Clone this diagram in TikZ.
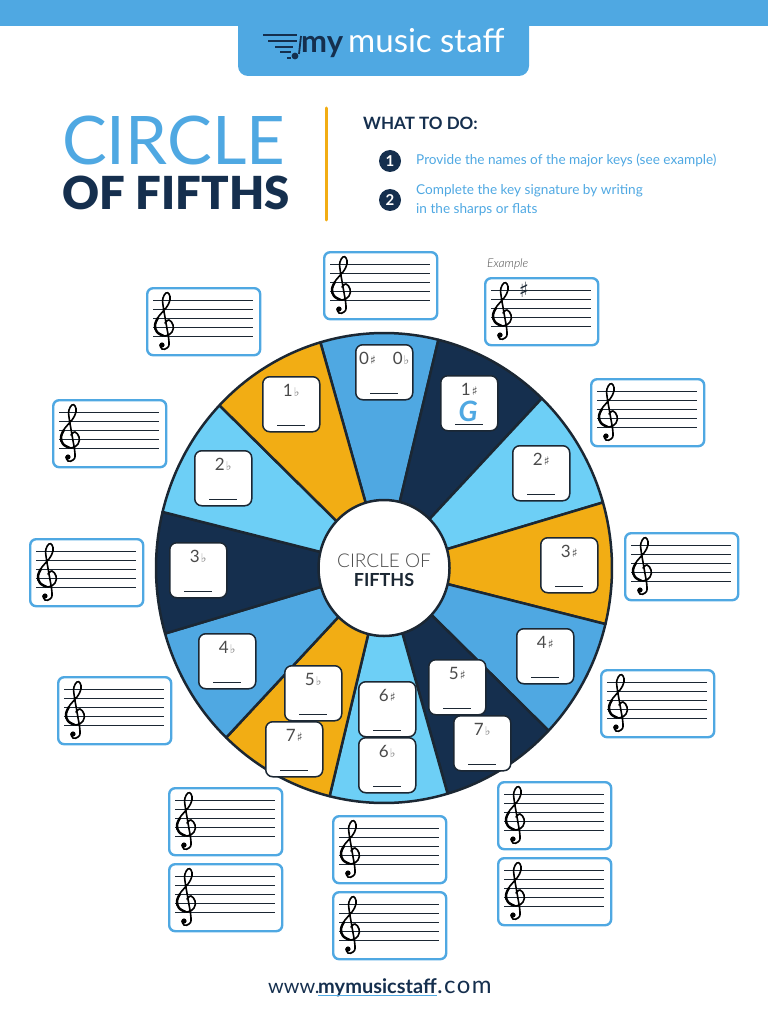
\documentclass[tikz,border=0pt]{standalone}
\usepackage{fontspec}
\setmainfont{Lato}
\newfontfamily\symfont{DejaVu Sans}
\newfontfamily\lightfont{Lato Light}
\newfontfamily\heavyfont{Lato Black}
\usetikzlibrary{positioning}

\definecolor{mmsblue}{HTML}{4FA8E2}
\definecolor{mmsnavy}{HTML}{152F4E}
\definecolor{mmssky}{HTML}{6DCFF6}
\definecolor{mmsgold}{HTML}{F2AD14}
\definecolor{mmsink}{HTML}{1B2733}
\definecolor{mmsgrey}{HTML}{4A4A4A}

\newcommand{\fsz}[1]{\fontsize{#1}{#1}\selectfont}
\newcommand{\shp}{\kern1pt{\symfont\fsz{12}\char"266F}}
\newcommand{\flt}{\kern1pt{\symfont\fsz{12}\color{mmsgrey!70}\char"266D}}

\tikzset{
  wedge/.style={draw=mmsink, line width=2.5pt, line join=round},
  stfbox/.style={draw=mmsblue, fill=white, line width=2.4pt, rounded corners=6pt,
    minimum width=113pt, minimum height=67pt, anchor=north west, inner sep=0pt},
  keybox/.style={draw=mmsink, fill=white, line width=1.5pt, rounded corners=7pt,
    minimum width=57pt, minimum height=55pt, anchor=north west, inner sep=0pt},
  keytext/.style={font=\fsz{17}, text=mmsgrey, inner sep=0pt},
  staffline/.style={draw=mmsink, line width=1pt},
  blankline/.style={draw=mmsink, line width=1pt},
  cleftrace/.style={draw=black, line width=1.6pt, line cap=round},
  lead/.style={font=\fsz{13.6}, text=mmsblue, anchor=base west, inner sep=0pt},
  numdot/.style={circle, fill=mmsnavy, text=white, font=\bfseries\fsz{15},
    minimum size=22pt, inner sep=0pt},
  trebleclef/.pic={
    \draw [cleftrace] plot [smooth, tension=0.7] coordinates {(19,36) (23,33) (27,38)
      (26,45) (19,49) (11,45) (9,38) (13,29) (20,21) (24,13) (23,7) (20,6) (17,11)
      (17,18) (20,36) (23,55) (21,61) (16,62) (14,58)};
    \draw [cleftrace, line width=2.4pt] plot [smooth, tension=0.7] coordinates {(17,48.5) (11,45) (9,38) (12,31)};
    \fill (16,58) circle (2.6);
  }
}

\begin{document}
\begin{tikzpicture}[x=1pt, y=-1pt]
  \useasboundingbox (0,0) rectangle (768,1024);

  \fill [mmsblue, rounded corners=10pt] (238,10) -- (238,76) -- (529,76) -- (529,10) -- cycle;
  \fill [mmsblue] (0,0) rectangle (768,26);
  \foreach \y/\a/\b in {35/263/297, 41/268/297, 47/275/293, 52/280/291}
    \draw [mmsnavy, line width=1.8pt] (\a,\y) -- (\b,\y);
  \fill [mmsnavy] (287,57) rectangle (291,59);
  \draw [mmsnavy, line width=1.8pt] (301,36) -- (299,54);
  \fill [mmsnavy] (295,56) circle (3.4);
  \node [font=\bfseries\fsz{31}, text=mmsnavy, anchor=base west, inner sep=0pt] (logomy) at (301,53) {my};
  \node [font=\fsz{33}, text=white, anchor=base west, inner sep=0pt] (logoname) at (348,53) {music staff};

  \node [font=\fsz{67}, text=mmsblue, anchor=base west, inner sep=0pt] (title1) at (62,165) {CIRCLE};
  \node [font=\heavyfont\fsz{45.5}, text=mmsnavy, anchor=base west, inner sep=0pt] (title2) at (62,210) {OF FIFTHS};
  \draw [mmsgold, line width=3pt, line cap=round] (326,108) -- (326,220);

  \node [font=\bfseries\fsz{17}, text=mmsnavy, anchor=base west, inner sep=0pt] (todo) at (363,130) {WHAT TO DO:};
  \node [numdot] (num1) at (390,161) {1};
  \node [numdot] (num2) at (390,200) {2};
  \node [lead] (txt1) at (416,165) {Provide the names of the major keys (see example)};
  \node [lead] (txt2) at (416,195) {Complete the key signature by writing};
  \node [lead] (txt3) at (416,214) {in the sharps or flats};

  \coordinate (hub) at (384,568);
  \foreach \a/\c in {-106.2/mmsblue, -76.2/mmsnavy, -46.2/mmssky, -16.2/mmsgold,
                     13.8/mmsblue, 43.8/mmsnavy, 73.8/mmssky, 103.8/mmsgold,
                     133.8/mmsblue, 163.8/mmsnavy, 193.8/mmssky, 223.8/mmsgold}
    \filldraw [wedge, fill=\c] (hub) -- ++(\a:228 and 235)
      arc [start angle=\a, delta angle=30, x radius=228, y radius=235] -- cycle;
  \filldraw [wedge, fill=white] (hub) circle [x radius=65.5, y radius=68];
  \node [font=\lightfont\fsz{19}, text=mmsgrey, inner sep=0pt] (hubtop) at (384,561) {CIRCLE OF};
  \node [font=\bfseries\fsz{18}, text=mmsink, inner sep=0pt] (hubbot) at (384,580) {FIFTHS};

  \foreach \nm/\x/\y in {stf0/323/251, stf1f/146/287, stf1s/484/277, stf2s/590/378,
                         stf2f/52/399, stf3s/624/532, stf3f/29/538, stf4s/600/669,
                         stf4f/57/676, stf5s/497/781, stf7f/497/857, stf5f/168/787,
                         stf7s/168/863, stf6s/332/815, stf6f/332/891} {
    \node [stfbox] (\nm) at (\x,\y) {};
    \foreach \k in {13,22,31,40,49}
      \draw [staffline] ([xshift=7pt,yshift=-\k pt]\nm.north west) -- ++(100,0);
    \pic at (\nm.north west) {trebleclef};
  }
  \node [font=\lightfont\itshape\fsz{12}, text=mmsgrey, anchor=base west, inner sep=0pt] (exlab) at (487,267) {Example};
  \node [font=\symfont\bfseries\fsz{21}, text=mmsink, inner sep=0pt] (exsharp) at (524,290) {\char"266F};

  \foreach \nm/\x/\y/\lab in {key0/355/344/{0\shp\quad 0\flt}, key1s/440/375/{1\shp},
      key2s/512/445/{2\shp}, key3s/540/537/{3\shp}, key4s/516/628/{4\shp},
      key5s/428/659/{5\shp}, key7f/453/715/{7\flt}, key6s/358/681/{6\shp},
      key6f/358/737/{6\flt}, key5f/284/665/{5\flt}, key7s/265/721/{7\shp},
      key4f/198/633/{4\flt}, key3f/169/542/{3\flt}, key2f/194/450/{2\flt},
      key1f/262/376/{1\flt}} {
    \node [keybox] (\nm) at (\x,\y) {};
    \node [keytext] (\nm lab) at ([yshift=-14pt]\nm.north) {\lab};
    \draw [blankline] ([xshift=-14pt,yshift=7pt]\nm.south) -- ([xshift=14pt,yshift=7pt]\nm.south);
  }
  \node [font=\bfseries\itshape\fsz{28}, text=mmsblue, inner sep=0pt] (keyG) at (468,411) {G};

  \node [font=\fsz{20}, text=mmsnavy, anchor=base west, inner sep=0pt] (webwww) at (268,993) {www.};
  \node [font=\bfseries\fsz{20}, text=mmsnavy, anchor=base west, inner sep=0pt] (webname) at (318,993) {mymusicstaff};
  \node [font=\addfontfeature{LetterSpace=6}\fsz{24}, text=mmsnavy, anchor=base west, inner sep=0pt] (webcom) at (webname.base east) {.com};
  \draw [mmsblue, line width=1pt] ([yshift=-2pt]webname.base west) -- ([yshift=-2pt]webname.base east);
\end{tikzpicture}
\end{document}
